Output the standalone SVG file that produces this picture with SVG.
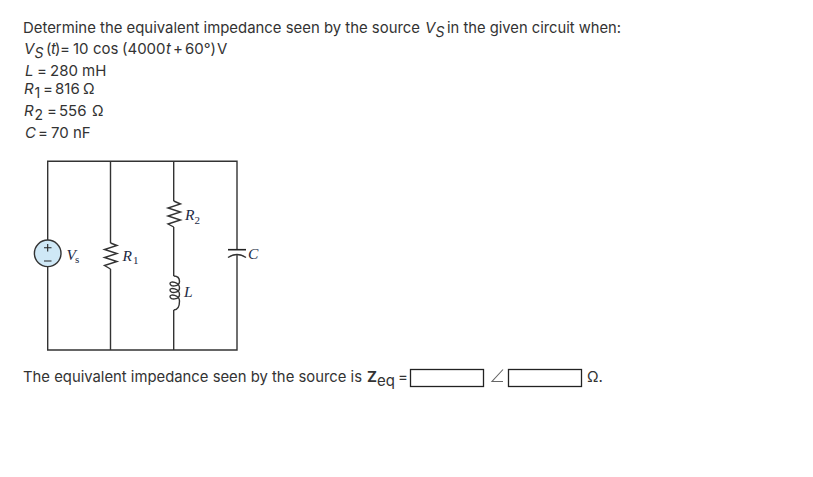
<svg xmlns="http://www.w3.org/2000/svg" width="813" height="477" viewBox="0 0 813 477">
<style>
.t{font-family:"Inter","Liberation Sans",sans-serif;font-size:15px;fill:#333}
.i{font-style:italic}
.s{font-size:14px}
.m{font-family:"Liberation Serif",serif;font-style:italic;font-size:15.500px;fill:#1d2a44}
.n{font-family:"Liberation Serif",serif;font-style:normal;font-size:11px;fill:#1d2a44}
.w{fill:none;stroke:#333;stroke-width:1.4}
.b{fill:#fff;stroke:#222;stroke-width:1.3}
</style>
<rect width="813" height="477" fill="#fff"/>
<g id="question">
<text class="t" x="23" y="33"><tspan textLength="397" lengthAdjust="spacingAndGlyphs">Determine the equivalent impedance seen by the source</tspan><tspan class="i" x="425">V</tspan><tspan class="i s" x="435.500" y="37">S</tspan><tspan x="447" y="33" textLength="174" lengthAdjust="spacingAndGlyphs">in the given circuit when:</tspan></text>
<text class="t" x="24" y="54"><tspan class="i">V</tspan><tspan class="i s" x="34.500" y="58">S</tspan><tspan x="46" y="54">(</tspan><tspan class="i" x="51">t</tspan><tspan x="55">)</tspan><tspan x="60">=</tspan><tspan x="73">10</tspan><tspan x="93">cos</tspan><tspan x="122">(4000</tspan><tspan class="i" x="166">t</tspan><tspan x="173">+</tspan><tspan x="185">60°)</tspan><tspan x="217">V</tspan></text>
<text class="t" x="25" y="76"><tspan class="i">L</tspan><tspan x="37">=</tspan><tspan x="50">280 mH</tspan></text>
<text class="t" x="24" y="94"><tspan class="i">R</tspan><tspan class="s" x="34.500" y="98">1</tspan><tspan x="43" y="94">=</tspan><tspan x="55">816</tspan><tspan x="83">Ω</tspan></text>
<text class="t" x="24" y="116"><tspan class="i">R</tspan><tspan class="s" x="34.500" y="120">2</tspan><tspan x="47" y="116">=</tspan><tspan x="59">556</tspan><tspan x="92">Ω</tspan></text>
<text class="t" x="25" y="138"><tspan class="i">C</tspan><tspan x="38">=</tspan><tspan x="51">70 nF</tspan></text>
</g>
<g id="connectors">
<path class="w" d="M47.700 240V161.300H237V249.700M237 255V350H47.700V266.500M110.500 161.300V243M110.500 269V350M173.700 161.300V201M173.700 227V276M173.700 310V350"/>
</g>
<g id="source">
<circle cx="47.700" cy="253.300" r="13.300" fill="#cfe8f6" stroke="#333" stroke-width="1.400"/>
<path d="M44 247.700H51.500M47.700 244V251.500M44 261H51.500" fill="none" stroke="#222" stroke-width="1.100"/>
<text class="m" x="66.500" y="260">V<tspan class="n" y="263" dx="-1" font-style="italic">s</tspan></text>
</g>
<g id="R1">
<path class="w" d="M110.500 243L117 245.500L104.500 249.500L117 253.500L104.500 257.500L117 261.500L104.500 265.500L110.500 269"/>
<text class="m" x="122.500" y="261">R<tspan class="n" y="264" dx="1">1</tspan></text>
</g>
<g id="R2">
<path class="w" d="M173.700 201L180.500 204L168 208L180.500 212L168 216L180.500 220L168 224L173.700 227"/>
<text class="m" x="185" y="220">R<tspan class="n" y="224">2</tspan></text>
</g>
<g id="L">
<path class="w" d="M173.700 276C178 276 179.500 278 179.500 281.500C179.500 286.500 170 287.500 170 283.500C170 280.500 179.500 282 179.500 288C179.500 293 170 294 170 290C170 287 179.500 288.500 179.500 294.500C179.500 299.500 170 300.500 170 296.500C170 293.500 179.500 295 179.500 301C179.500 306 178 310 173.700 310"/>
<text class="m" x="184" y="297">L</text>
</g>
<g id="C">
<path d="M228 249.700H246" fill="none" stroke="#222" stroke-width="1.600"/>
<path class="w" d="M228 257.500Q237 251.500 246 257.500"/>
<text class="m" x="248" y="259">C</text>
</g>
<g id="answer">
<text class="t" x="23" y="382"><tspan textLength="339" lengthAdjust="spacingAndGlyphs">The equivalent impedance seen by the source is</tspan><tspan x="367" font-weight="700">Z</tspan><tspan x="377" y="386">eq</tspan><tspan x="398" y="382">=</tspan><tspan x="587">Ω.</tspan></text>
<rect class="b" x="410.500" y="369.500" width="73" height="17"/>
<path d="M503 369.500L492 381.500H503" fill="none" stroke="#666" stroke-width="1.100"/>
<rect class="b" x="508.500" y="369.500" width="73" height="17"/>
</g>
</svg>
